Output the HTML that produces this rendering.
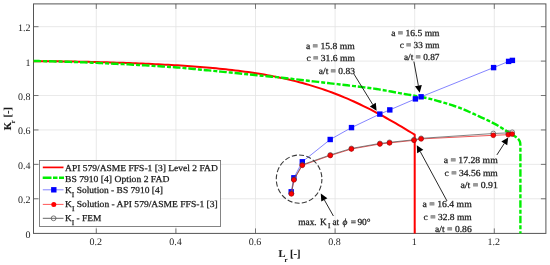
<!DOCTYPE html><html><head><meta charset="utf-8"><style>html,body{margin:0;padding:0;background:#fff;}svg{display:block;filter:blur(0.3px);}text{text-rendering:geometricPrecision;font-family:"Liberation Serif",serif;fill:#1a1a1a;stroke:#1a1a1a;stroke-width:0.25px;}text.tk{fill:#262626;stroke:none;}text.lb{stroke-width:0.1px;}</style></head><body>
<svg width="550" height="265" viewBox="0 0 550 265">
<rect x="0" y="0" width="550" height="265" fill="#fff"/>
<line x1="96.30" y1="3.9" x2="96.30" y2="233.4" stroke="#e3e3e3" stroke-width="0.8"/>
<line x1="33.5" y1="198.78" x2="545.9" y2="198.78" stroke="#e3e3e3" stroke-width="0.8"/>
<line x1="175.90" y1="3.9" x2="175.90" y2="233.4" stroke="#e3e3e3" stroke-width="0.8"/>
<line x1="33.5" y1="164.36" x2="545.9" y2="164.36" stroke="#e3e3e3" stroke-width="0.8"/>
<line x1="255.50" y1="3.9" x2="255.50" y2="233.4" stroke="#e3e3e3" stroke-width="0.8"/>
<line x1="33.5" y1="129.94" x2="545.9" y2="129.94" stroke="#e3e3e3" stroke-width="0.8"/>
<line x1="335.10" y1="3.9" x2="335.10" y2="233.4" stroke="#e3e3e3" stroke-width="0.8"/>
<line x1="33.5" y1="95.52" x2="545.9" y2="95.52" stroke="#e3e3e3" stroke-width="0.8"/>
<line x1="414.70" y1="3.9" x2="414.70" y2="233.4" stroke="#e3e3e3" stroke-width="0.8"/>
<line x1="33.5" y1="61.10" x2="545.9" y2="61.10" stroke="#e3e3e3" stroke-width="0.8"/>
<line x1="494.30" y1="3.9" x2="494.30" y2="233.4" stroke="#e3e3e3" stroke-width="0.8"/>
<line x1="33.5" y1="26.68" x2="545.9" y2="26.68" stroke="#e3e3e3" stroke-width="0.8"/>
<rect x="33.5" y="3.9" width="512.4" height="229.5" fill="none" stroke="#555" stroke-width="1"/>
<line x1="96.30" y1="233.4" x2="96.30" y2="228.4" stroke="#555" stroke-width="0.8"/>
<line x1="96.30" y1="3.9" x2="96.30" y2="8.9" stroke="#555" stroke-width="0.8"/>
<line x1="175.90" y1="233.4" x2="175.90" y2="228.4" stroke="#555" stroke-width="0.8"/>
<line x1="175.90" y1="3.9" x2="175.90" y2="8.9" stroke="#555" stroke-width="0.8"/>
<line x1="255.50" y1="233.4" x2="255.50" y2="228.4" stroke="#555" stroke-width="0.8"/>
<line x1="255.50" y1="3.9" x2="255.50" y2="8.9" stroke="#555" stroke-width="0.8"/>
<line x1="335.10" y1="233.4" x2="335.10" y2="228.4" stroke="#555" stroke-width="0.8"/>
<line x1="335.10" y1="3.9" x2="335.10" y2="8.9" stroke="#555" stroke-width="0.8"/>
<line x1="414.70" y1="233.4" x2="414.70" y2="228.4" stroke="#555" stroke-width="0.8"/>
<line x1="414.70" y1="3.9" x2="414.70" y2="8.9" stroke="#555" stroke-width="0.8"/>
<line x1="494.30" y1="233.4" x2="494.30" y2="228.4" stroke="#555" stroke-width="0.8"/>
<line x1="494.30" y1="3.9" x2="494.30" y2="8.9" stroke="#555" stroke-width="0.8"/>
<line x1="33.5" y1="198.78" x2="38.5" y2="198.78" stroke="#555" stroke-width="0.8"/>
<line x1="545.9" y1="198.78" x2="540.9" y2="198.78" stroke="#555" stroke-width="0.8"/>
<line x1="33.5" y1="164.36" x2="38.5" y2="164.36" stroke="#555" stroke-width="0.8"/>
<line x1="545.9" y1="164.36" x2="540.9" y2="164.36" stroke="#555" stroke-width="0.8"/>
<line x1="33.5" y1="129.94" x2="38.5" y2="129.94" stroke="#555" stroke-width="0.8"/>
<line x1="545.9" y1="129.94" x2="540.9" y2="129.94" stroke="#555" stroke-width="0.8"/>
<line x1="33.5" y1="95.52" x2="38.5" y2="95.52" stroke="#555" stroke-width="0.8"/>
<line x1="545.9" y1="95.52" x2="540.9" y2="95.52" stroke="#555" stroke-width="0.8"/>
<line x1="33.5" y1="61.10" x2="38.5" y2="61.10" stroke="#555" stroke-width="0.8"/>
<line x1="545.9" y1="61.10" x2="540.9" y2="61.10" stroke="#555" stroke-width="0.8"/>
<line x1="33.5" y1="26.68" x2="38.5" y2="26.68" stroke="#555" stroke-width="0.8"/>
<line x1="545.9" y1="26.68" x2="540.9" y2="26.68" stroke="#555" stroke-width="0.8"/>
<path d="M33.50,61.14 L36.70,61.16 L39.91,61.18 L43.11,61.21 L46.31,61.23 L49.52,61.26 L52.72,61.30 L55.92,61.33 L59.13,61.37 L62.33,61.42 L65.53,61.46 L68.74,61.51 L71.94,61.56 L75.14,61.62 L78.35,61.68 L81.55,61.74 L84.75,61.81 L87.96,61.87 L91.16,61.95 L94.36,62.02 L97.57,62.10 L100.77,62.18 L103.97,62.27 L107.18,62.36 L110.38,62.45 L113.58,62.54 L116.79,62.64 L119.99,62.75 L123.19,62.85 L126.40,62.96 L129.60,63.08 L132.80,63.20 L136.01,63.32 L139.21,63.45 L142.41,63.58 L145.62,63.72 L148.82,63.86 L152.02,64.00 L155.23,64.16 L158.43,64.31 L161.63,64.47 L164.84,64.64 L168.04,64.82 L171.24,65.00 L174.45,65.18 L177.65,65.37 L180.85,65.57 L184.06,65.78 L187.26,66.00 L190.46,66.22 L193.67,66.45 L196.87,66.69 L200.07,66.94 L203.28,67.20 L206.48,67.47 L209.68,67.74 L212.89,68.03 L216.09,68.34 L219.29,68.65 L222.50,68.97 L225.70,69.31 L228.91,69.66 L232.11,70.03 L235.31,70.41 L238.52,70.81 L241.72,71.22 L244.92,71.65 L248.13,72.09 L251.33,72.56 L254.53,73.04 L257.74,73.54 L260.94,74.07 L264.14,74.61 L267.35,75.18 L270.55,75.77 L273.75,76.38 L276.96,77.01 L280.16,77.68 L283.36,78.36 L286.57,79.08 L289.77,79.82 L292.97,80.59 L296.18,81.39 L299.38,82.22 L302.58,83.08 L305.79,83.97 L308.99,84.89 L312.19,85.85 L315.40,86.84 L318.60,87.86 L321.80,88.92 L325.01,90.02 L328.21,91.15 L331.41,92.31 L334.62,93.52 L337.82,94.76 L341.02,96.04 L344.23,97.35 L347.43,98.70 L350.63,100.09 L353.84,101.52 L357.04,102.99 L360.24,104.49 L363.45,106.03 L366.65,107.60 L369.85,109.21 L373.06,110.85 L376.26,112.53 L379.46,114.24 L382.67,115.98 L385.87,117.75 L389.07,119.55 L392.28,121.37 L395.48,123.22 L398.68,125.09 L401.89,126.98 L405.09,128.89 L408.29,130.82 L411.50,132.76 L414.70,134.71 L414.70,233.40" fill="none" stroke="#ff0000" stroke-width="2.0" stroke-linejoin="round"/>
<path d="M33.50,60.95 L35.93,60.99 L38.37,61.03 L40.80,61.08 L43.23,61.13 L45.66,61.18 L48.10,61.24 L50.53,61.30 L52.96,61.36 L55.39,61.43 L57.83,61.49 L60.26,61.56 L62.69,61.64 L65.12,61.71 L67.56,61.79 L69.99,61.87 L72.42,61.94 L74.86,62.03 L77.29,62.11 L79.72,62.19 L82.15,62.28 L84.59,62.37 L87.02,62.47 L89.45,62.58 L91.88,62.69 L94.32,62.81 L96.75,62.92 L99.18,63.04 L101.61,63.15 L104.05,63.26 L106.48,63.37 L108.91,63.48 L111.35,63.59 L113.78,63.71 L116.21,63.82 L118.64,63.93 L121.08,64.05 L123.51,64.17 L125.94,64.29 L128.37,64.41 L130.81,64.54 L133.24,64.68 L135.67,64.81 L138.10,64.95 L140.54,65.10 L142.97,65.25 L145.40,65.40 L147.84,65.55 L150.27,65.70 L152.70,65.85 L155.13,66.01 L157.57,66.16 L160.00,66.32 L162.43,66.47 L164.86,66.63 L167.30,66.79 L169.73,66.95 L172.16,67.12 L174.59,67.29 L177.03,67.47 L179.46,67.66 L181.89,67.85 L184.33,68.06 L186.76,68.28 L189.19,68.51 L191.62,68.74 L194.06,68.98 L196.49,69.22 L198.92,69.47 L201.35,69.71 L203.79,69.96 L206.22,70.20 L208.65,70.43 L211.08,70.67 L213.52,70.90 L215.95,71.13 L218.38,71.37 L220.82,71.60 L223.25,71.84 L225.68,72.07 L228.11,72.31 L230.55,72.55 L232.98,72.80 L235.41,73.05 L237.84,73.30 L240.28,73.55 L242.71,73.80 L245.14,74.05 L247.57,74.31 L250.01,74.56 L252.44,74.81 L254.87,75.06 L257.31,75.30 L259.74,75.54 L262.17,75.78 L264.60,76.01 L267.04,76.24 L269.47,76.46 L271.90,76.69 L274.33,76.93 L276.77,77.17 L279.20,77.42 L281.63,77.67 L284.06,77.94 L286.50,78.21 L288.93,78.50 L291.36,78.78 L293.79,79.07 L296.23,79.36 L298.66,79.65 L301.09,79.95 L303.53,80.24 L305.96,80.53 L308.39,80.81 L310.82,81.09 L313.26,81.37 L315.69,81.65 L318.12,81.93 L320.55,82.21 L322.99,82.49 L325.42,82.77 L327.85,83.05 L330.28,83.33 L332.72,83.61 L335.15,83.89 L337.58,84.17 L340.02,84.45 L342.45,84.72 L344.88,85.00 L347.31,85.28 L349.75,85.57 L352.18,85.85 L354.61,86.15 L357.04,86.44 L359.48,86.75 L361.91,87.05 L364.34,87.36 L366.77,87.67 L369.21,87.99 L371.64,88.32 L374.07,88.67 L376.51,89.03 L378.94,89.40 L381.37,89.80 L383.80,90.21 L386.24,90.64 L388.67,91.09 L391.10,91.54 L393.53,91.99 L395.97,92.45 L398.40,92.90 L400.83,93.35 L403.26,93.79 L405.70,94.22 L408.13,94.64 L410.56,95.05 L413.00,95.46 L415.43,95.87 L417.86,96.30 L420.29,96.75 L422.73,97.23 L425.16,97.73 L427.59,98.28 L430.02,98.87 L432.46,99.48 L434.89,100.13 L437.32,100.80 L439.75,101.49 L442.19,102.20 L444.62,102.91 L447.05,103.64 L449.49,104.40 L451.92,105.18 L454.35,105.99 L456.78,106.83 L459.22,107.71 L461.65,108.63 L464.08,109.62 L466.51,110.65 L468.95,111.73 L471.38,112.83 L473.81,113.95 L476.24,115.08 L478.68,116.20 L481.11,117.31 L483.54,118.41 L485.98,119.53 L488.41,120.67 L490.84,121.85 L493.27,123.09 L495.71,124.39 L498.14,125.80 L500.57,127.29 L503.00,128.83 L505.44,130.36 L507.87,131.86 L510.30,133.34 L512.73,134.86 L515.17,136.47 L517.60,138.30 L518.50,139.25 L519.40,140.60 L520.00,141.93 L520.20,142.80 L520.40,145.50 L520.40,233.40" fill="none" stroke="#00ee00" stroke-width="2.4" stroke-dasharray="7.63 2.0 4.0 1.87" stroke-linejoin="round"/>
<path d="M291.20,191.80 L293.90,177.80 L302.30,161.80 L330.20,139.50 L351.50,127.60 L379.80,114.10 L389.80,109.90 L415.40,98.90 L421.10,96.80 L493.60,67.60 L508.60,61.40 L512.40,60.40" fill="none" stroke="#6464ff" stroke-width="0.8"/>
<rect x="288.50" y="189.10" width="5.4" height="5.4" fill="#0000ff"/>
<rect x="291.20" y="175.10" width="5.4" height="5.4" fill="#0000ff"/>
<rect x="299.60" y="159.10" width="5.4" height="5.4" fill="#0000ff"/>
<rect x="327.50" y="136.80" width="5.4" height="5.4" fill="#0000ff"/>
<rect x="348.80" y="124.90" width="5.4" height="5.4" fill="#0000ff"/>
<rect x="377.10" y="111.40" width="5.4" height="5.4" fill="#0000ff"/>
<rect x="387.10" y="107.20" width="5.4" height="5.4" fill="#0000ff"/>
<rect x="412.70" y="96.20" width="5.4" height="5.4" fill="#0000ff"/>
<rect x="418.40" y="94.10" width="5.4" height="5.4" fill="#0000ff"/>
<rect x="490.90" y="64.90" width="5.4" height="5.4" fill="#0000ff"/>
<rect x="505.90" y="58.70" width="5.4" height="5.4" fill="#0000ff"/>
<rect x="509.70" y="57.70" width="5.4" height="5.4" fill="#0000ff"/>
<path d="M291.40,193.90 L293.90,179.90 L302.30,165.30 L330.30,155.50 L351.40,149.00 L379.90,144.00 L389.50,142.90 L414.00,140.30 L421.10,138.90 L493.30,135.30 L508.30,134.70 L512.20,134.10" fill="none" stroke="#e83030" stroke-width="0.8"/>
<path d="M291.40,193.35 L293.90,179.35 L302.30,164.75 L330.30,154.95 L351.40,148.45 L379.90,143.45 L389.50,142.35 L414.00,139.75 L421.10,138.35 L493.30,133.50 L508.30,132.90 L512.20,132.30" fill="none" stroke="#5a5a5a" stroke-width="0.75"/>
<circle cx="291.40" cy="193.35" r="2.4" fill="none" stroke="#5a5a5a" stroke-width="0.75"/>
<circle cx="293.90" cy="179.35" r="2.4" fill="none" stroke="#5a5a5a" stroke-width="0.75"/>
<circle cx="302.30" cy="164.75" r="2.4" fill="none" stroke="#5a5a5a" stroke-width="0.75"/>
<circle cx="330.30" cy="154.95" r="2.4" fill="none" stroke="#5a5a5a" stroke-width="0.75"/>
<circle cx="351.40" cy="148.45" r="2.4" fill="none" stroke="#5a5a5a" stroke-width="0.75"/>
<circle cx="379.90" cy="143.45" r="2.4" fill="none" stroke="#5a5a5a" stroke-width="0.75"/>
<circle cx="389.50" cy="142.35" r="2.4" fill="none" stroke="#5a5a5a" stroke-width="0.75"/>
<circle cx="414.00" cy="139.75" r="2.4" fill="none" stroke="#5a5a5a" stroke-width="0.75"/>
<circle cx="421.10" cy="138.35" r="2.4" fill="none" stroke="#5a5a5a" stroke-width="0.75"/>
<circle cx="493.30" cy="133.50" r="2.4" fill="none" stroke="#5a5a5a" stroke-width="0.75"/>
<circle cx="508.30" cy="132.90" r="2.4" fill="none" stroke="#5a5a5a" stroke-width="0.75"/>
<circle cx="512.20" cy="132.30" r="2.4" fill="none" stroke="#5a5a5a" stroke-width="0.75"/>
<circle cx="291.40" cy="193.90" r="2.4" fill="#ff0000" stroke="#a00000" stroke-width="0.6"/>
<circle cx="293.90" cy="179.90" r="2.4" fill="#ff0000" stroke="#a00000" stroke-width="0.6"/>
<circle cx="302.30" cy="165.30" r="2.4" fill="#ff0000" stroke="#a00000" stroke-width="0.6"/>
<circle cx="330.30" cy="155.50" r="2.4" fill="#ff0000" stroke="#a00000" stroke-width="0.6"/>
<circle cx="351.40" cy="149.00" r="2.4" fill="#ff0000" stroke="#a00000" stroke-width="0.6"/>
<circle cx="379.90" cy="144.00" r="2.4" fill="#ff0000" stroke="#a00000" stroke-width="0.6"/>
<circle cx="389.50" cy="142.90" r="2.4" fill="#ff0000" stroke="#a00000" stroke-width="0.6"/>
<circle cx="414.00" cy="140.30" r="2.4" fill="#ff0000" stroke="#a00000" stroke-width="0.6"/>
<circle cx="421.10" cy="138.90" r="2.4" fill="#ff0000" stroke="#a00000" stroke-width="0.6"/>
<circle cx="493.30" cy="135.30" r="2.4" fill="#ff0000" stroke="#a00000" stroke-width="0.6"/>
<circle cx="508.30" cy="134.70" r="2.4" fill="#ff0000" stroke="#a00000" stroke-width="0.6"/>
<circle cx="512.20" cy="134.10" r="2.4" fill="#ff0000" stroke="#a00000" stroke-width="0.6"/>
<ellipse cx="299.1" cy="179.1" rx="22.8" ry="24.1" fill="none" stroke="#3a3a3a" stroke-width="1.1" stroke-dasharray="5.1 2.27" stroke-dashoffset="0.75"/>
<line x1="353.80" y1="73.80" x2="372.82" y2="104.67" stroke="#111" stroke-width="0.9"/><polygon points="376.60,110.80 369.84,106.51 375.80,102.83" fill="#000"/>
<line x1="413.90" y1="61.50" x2="418.39" y2="85.72" stroke="#111" stroke-width="0.9"/><polygon points="419.70,92.80 414.95,86.36 421.83,85.08" fill="#000"/>
<line x1="496.90" y1="154.90" x2="504.29" y2="143.45" stroke="#111" stroke-width="0.9"/><polygon points="508.20,137.40 507.23,145.35 501.35,141.55" fill="#000"/>
<line x1="447.00" y1="201.00" x2="420.23" y2="151.53" stroke="#111" stroke-width="0.9"/><polygon points="416.80,145.20 423.31,149.87 417.15,153.20" fill="#000"/>
<line x1="333.40" y1="216.00" x2="324.33" y2="199.88" stroke="#111" stroke-width="0.9"/><polygon points="320.80,193.60 327.38,198.16 321.28,201.59" fill="#000"/>
<text x="305.9" y="48.5" font-size="9.2" textLength="48.8" lengthAdjust="spacingAndGlyphs">a = 15.8 mm</text>
<text x="306.4" y="61.0" font-size="9.2" textLength="48.5" lengthAdjust="spacingAndGlyphs">c = 31.6 mm</text>
<text x="318.8" y="73.6" font-size="9.2" textLength="36.1" lengthAdjust="spacingAndGlyphs">a/t = 0.83</text>
<text x="391.2" y="35.5" font-size="9.2" textLength="48.3" lengthAdjust="spacingAndGlyphs">a = 16.5 mm</text>
<text x="399.7" y="47.9" font-size="9.2" textLength="39.8" lengthAdjust="spacingAndGlyphs">c = 33 mm</text>
<text x="403.9" y="60.2" font-size="9.2" textLength="35.6" lengthAdjust="spacingAndGlyphs">a/t = 0.87</text>
<text x="443.7" y="163.1" font-size="9.2" textLength="54.0" lengthAdjust="spacingAndGlyphs">a = 17.28 mm</text>
<text x="444.5" y="175.7" font-size="9.2" textLength="53.3" lengthAdjust="spacingAndGlyphs">c = 34.56 mm</text>
<text x="460.5" y="188.2" font-size="9.2" textLength="37.3" lengthAdjust="spacingAndGlyphs">a/t = 0.91</text>
<text x="422.6" y="206.8" font-size="9.2" textLength="49.1" lengthAdjust="spacingAndGlyphs">a = 16.4 mm</text>
<text x="423.6" y="219.6" font-size="9.2" textLength="48.1" lengthAdjust="spacingAndGlyphs">c = 32.8 mm</text>
<text x="435.1" y="232.0" font-size="9.2" textLength="36.6" lengthAdjust="spacingAndGlyphs">a/t = 0.86</text>
<text y="224.6" font-size="9.4"><tspan x="298.2">max.</tspan><tspan x="320.1">K</tspan><tspan x="328.1" font-size="7.2" dy="3.3">I</tspan><tspan x="332.4" dy="-3.3">at</tspan><tspan x="342.6" font-style="italic">&#981;</tspan><tspan x="350.8">=</tspan><tspan x="357.4">90&#176;</tspan></text>
<text x="95.80" y="245.3" text-anchor="middle" font-size="10" class="tk">0.2</text>
<text x="175.40" y="245.3" text-anchor="middle" font-size="10" class="tk">0.4</text>
<text x="255.00" y="245.3" text-anchor="middle" font-size="10" class="tk">0.6</text>
<text x="334.60" y="245.3" text-anchor="middle" font-size="10" class="tk">0.8</text>
<text x="414.20" y="245.3" text-anchor="middle" font-size="10" class="tk">1</text>
<text x="493.80" y="245.3" text-anchor="middle" font-size="10" class="tk">1.2</text>
<text x="30.6" y="237.60" text-anchor="end" font-size="10" class="tk">0</text>
<text x="30.6" y="203.18" text-anchor="end" font-size="10" class="tk">0.2</text>
<text x="30.6" y="168.76" text-anchor="end" font-size="10" class="tk">0.4</text>
<text x="30.6" y="134.34" text-anchor="end" font-size="10" class="tk">0.6</text>
<text x="30.6" y="99.92" text-anchor="end" font-size="10" class="tk">0.8</text>
<text x="30.6" y="65.50" text-anchor="end" font-size="10" class="tk">1</text>
<text x="30.6" y="31.08" text-anchor="end" font-size="10" class="tk">1.2</text>
<text x="278.5" y="257.2" font-size="10.5" font-weight="bold" class="lb">L<tspan font-size="6.6" dy="4.3" dx="-1">r</tspan><tspan dy="-4.3"> [-]</tspan></text>
<text transform="translate(10.9,130.3) rotate(-90)" font-size="10.5" font-weight="bold" class="lb">K<tspan font-size="6.6" dy="4.3" dx="-1">r</tspan><tspan dy="-4.3"> [-]</tspan></text>
<rect x="39.4" y="160.4" width="181.2" height="66.2" fill="#fff" stroke="#666" stroke-width="0.8"/>
<line x1="42.8" y1="167.4" x2="63.5" y2="167.4" stroke="#ff0000" stroke-width="1.7"/>
<line x1="42.7" y1="177.8" x2="64" y2="177.8" stroke="#00ee00" stroke-width="2.4" stroke-dasharray="8.8 1.5 4.5 1.5"/>
<line x1="42.8" y1="189.8" x2="63.5" y2="189.8" stroke="#6464ff" stroke-width="0.8"/>
<rect x="51.1" y="187.1" width="5.4" height="5.4" fill="#0000ff"/>
<line x1="42.8" y1="204.4" x2="63.5" y2="204.4" stroke="#ff4444" stroke-width="0.9"/>
<circle cx="53.8" cy="204.4" r="2.5" fill="#ff0000"/>
<line x1="42.8" y1="218.3" x2="63.5" y2="218.3" stroke="#555" stroke-width="0.9"/>
<circle cx="53.6" cy="218.3" r="2.4" fill="none" stroke="#555" stroke-width="0.8"/>
<text x="65.0" y="170.9" font-size="9.15" textLength="152.8" lengthAdjust="spacingAndGlyphs">API 579/ASME FFS-1 [3] Level 2 FAD</text>
<text x="65.0" y="181.7" font-size="9.15" textLength="104.4" lengthAdjust="spacingAndGlyphs">BS 7910 [4] Option 2 FAD</text>
<text x="65.0" y="192.8" font-size="9.15" textLength="97.8" lengthAdjust="spacingAndGlyphs">K<tspan font-size="7.2" dy="4.0">I</tspan><tspan dy="-4.0"> Solution - BS 7910 [4]</tspan></text>
<text x="65.0" y="206.6" font-size="9.15" textLength="152.7" lengthAdjust="spacingAndGlyphs">K<tspan font-size="7.2" dy="4.0">I</tspan><tspan dy="-4.0"> Solution - API 579/ASME FFS-1 [3]</tspan></text>
<text x="65.0" y="221.1" font-size="9.15" textLength="36.2" lengthAdjust="spacingAndGlyphs">K<tspan font-size="7.2" dy="4.0">I</tspan><tspan dy="-4.0"> - FEM</tspan></text>
</svg></body></html>
